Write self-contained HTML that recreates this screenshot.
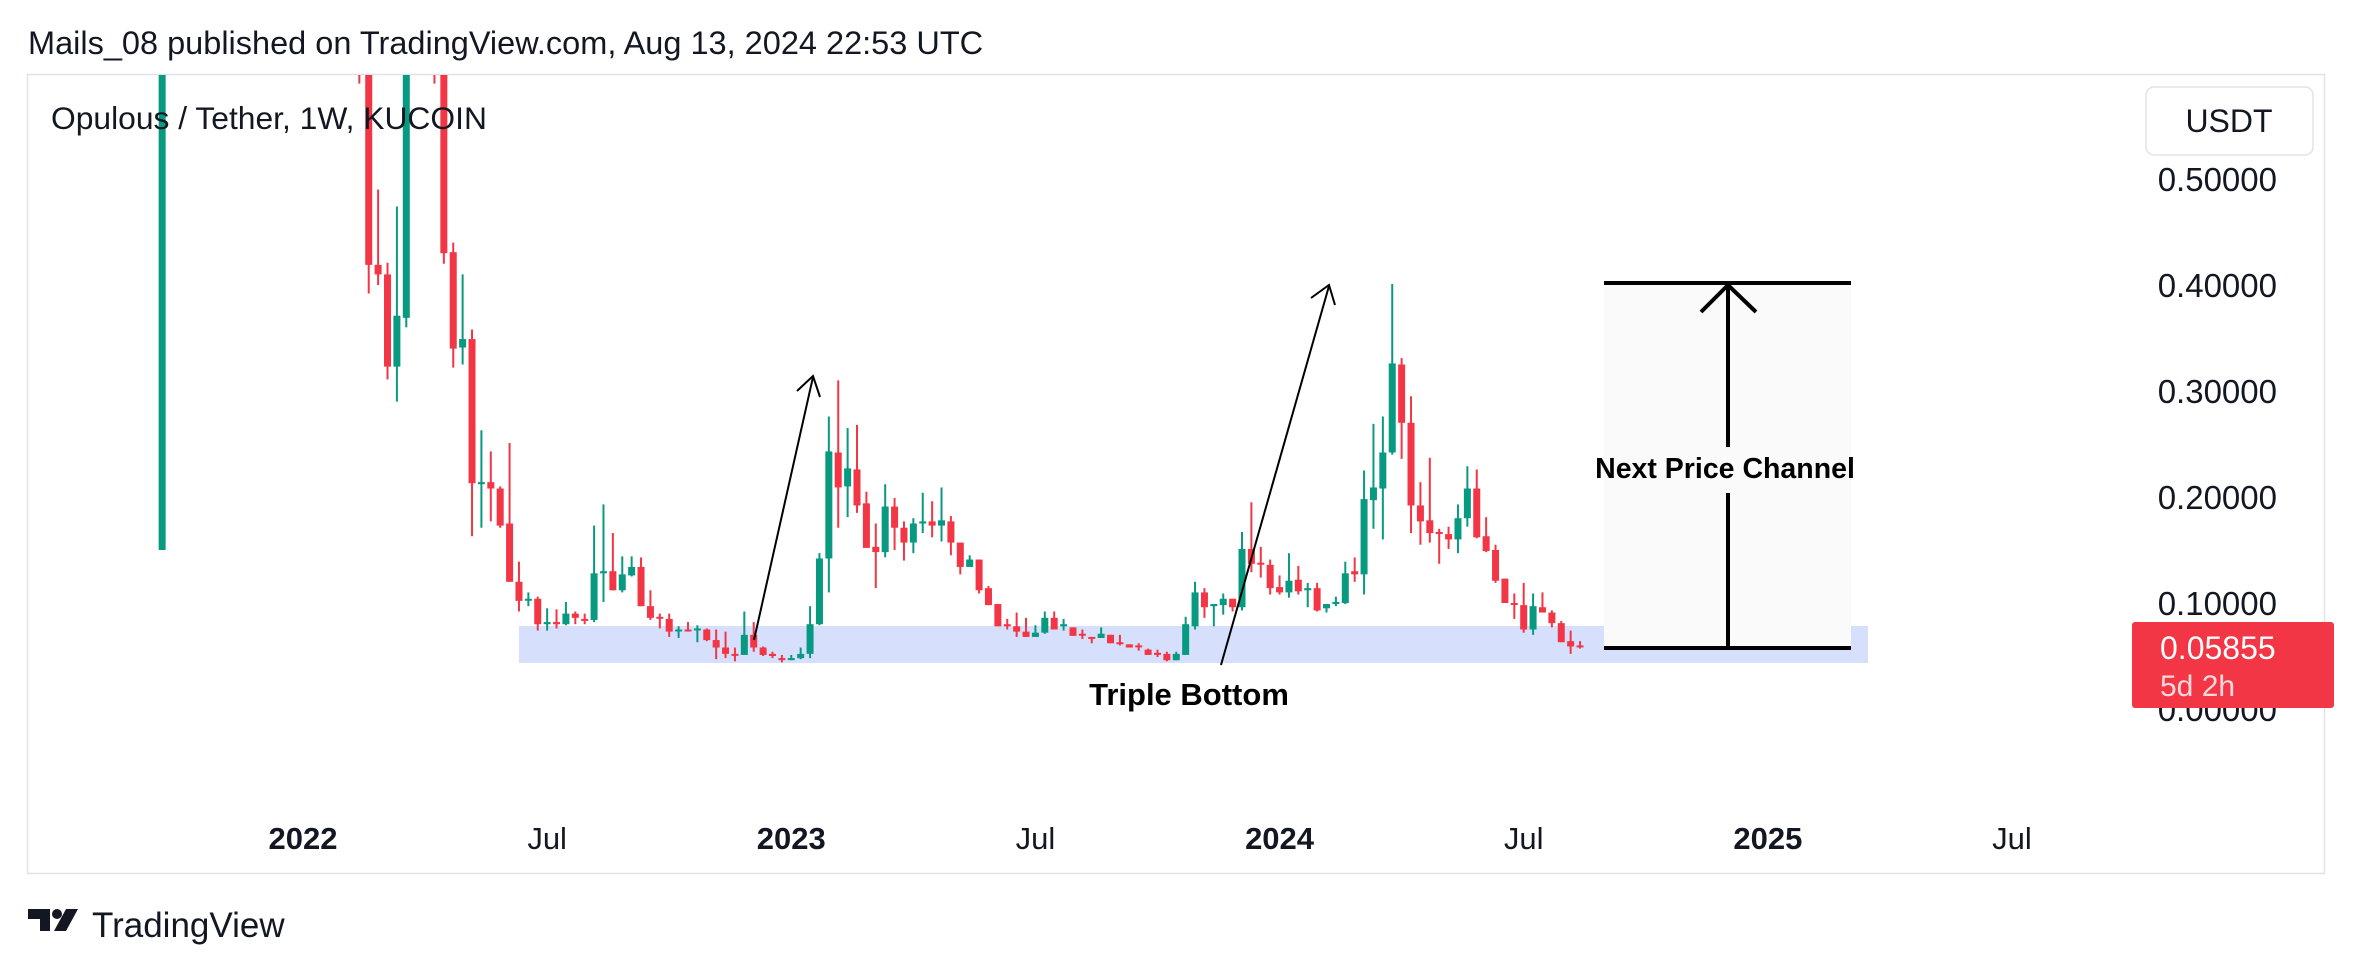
<!DOCTYPE html>
<html><head><meta charset="utf-8">
<style>
html,body{margin:0;padding:0;background:#fff;width:2355px;height:972px;overflow:hidden;font-family:"Liberation Sans",sans-serif;}
svg text{font-family:"Liberation Sans",sans-serif;}
</style></head>
<body>
<svg id="chart" width="2355" height="972" viewBox="0 0 2355 972" xmlns="http://www.w3.org/2000/svg">
  <text x="28" y="54" font-size="32.5" fill="#131722">Mails_08 published on TradingView.com, Aug 13, 2024 22:53 UTC</text>
  <rect x="27.5" y="74.5" width="2297" height="799" fill="#fff" stroke="#e0e3eb" stroke-width="1.5"/>
  <defs><clipPath id="pane"><rect x="28" y="75" width="2100" height="798"/></clipPath></defs>
  <rect x="519" y="626" width="1349" height="37" fill="#d6e0fc"/>
  <rect x="1604" y="283" width="247" height="365" fill="#fafafa"/>
  <g id="candles" clip-path="url(#pane)"></g>
  <g stroke="#000" stroke-width="4" fill="none">
    <line x1="1604" y1="283" x2="1851" y2="283"/>
    <line x1="1604" y1="648" x2="1851" y2="648"/>
    <line x1="1728" y1="648" x2="1728" y2="493"/>
    <line x1="1728" y1="447" x2="1728" y2="285"/>
    <polyline points="1701,312 1728,285 1756,312"/>
  </g>
  <text x="1725" y="478" font-size="28.5" font-weight="bold" text-anchor="middle" fill="#000">Next Price Channel</text>
  <g stroke="#000" stroke-width="2" fill="none">
    <line x1="754" y1="640" x2="813" y2="377"/>
    <polyline points="797,391 813,376 820,397"/>
  </g>
  <g stroke="#000" stroke-width="2" fill="none">
    <line x1="1221" y1="665" x2="1329" y2="286"/>
    <polyline points="1311,298 1329,285 1335,305"/>
  </g>
  <text x="1189" y="705" font-size="31" font-weight="bold" text-anchor="middle" fill="#000">Triple Bottom</text>
  <text x="51" y="129" font-size="31.8" fill="#131722">Opulous / Tether, 1W, KUCOIN</text>
  <g>
    <rect x="2146" y="87" width="167" height="68" rx="8" fill="#fff" stroke="#e0e3eb" stroke-width="1.5"/>
    <text x="2229" y="132" font-size="32" fill="#131722" text-anchor="middle">USDT</text>
  </g>
  <g id="yaxis"></g>
  <g id="xaxis"></g>
  <g>
    <rect x="2132" y="622" width="202" height="86" rx="3" fill="#f23645"/>
    <text x="2160" y="659" font-size="32" fill="#fff">0.05855</text>
    <text x="2160" y="696" font-size="30" fill="#ffd9dc">5d 2h</text>
  </g>
  <g>
    <path d="M28 909 h22 v22 h-10 v-12 h-12 z" fill="#131722"/>
    <circle cx="57" cy="914" r="5" fill="#131722"/>
    <path d="M66 909 h12 l-12 22 h-12 z" fill="#131722"/>
    <text x="92" y="937" font-size="35" fill="#131722">TradingView</text>
  </g>
</svg>
<script>
const weekStart = -15; // weeks relative to 2022-01-03
const opens  = [0.15,1.6,1.5,1.2,1.0,1.35,1.2,0.98,1.1,0.95,0.88,0.9,1.0,1.05,0.95,0.85,0.8,0.78,0.72,0.75,0.7,0.72,0.66,0.419,0.410,0.323,0.369,0.9,0.85,0.75,0.62,0.431,0.341,0.349,0.213,0.214,0.208,0.175,0.120,0.103,0.104,0.080,0.082,0.080,0.090,0.085,0.084,0.128,0.130,0.112,0.126,0.134,0.097,0.087,0.085,0.074,0.075,0.075,0.075,0.065,0.058,0.052,0.051,0.070,0.058,0.052,0.048,0.047,0.048,0.052,0.080,0.142,0.242,0.210,0.226,0.194,0.153,0.148,0.191,0.171,0.157,0.175,0.177,0.173,0.177,0.157,0.134,0.141,0.114,0.099,0.080,0.078,0.073,0.068,0.072,0.086,0.078,0.077,0.071,0.068,0.067,0.070,0.063,0.061,0.060,0.056,0.053,0.052,0.046,0.051,0.078,0.110,0.097,0.098,0.104,0.096,0.151,0.138,0.136,0.115,0.110,0.122,0.112,0.114,0.095,0.099,0.100,0.130,0.127,0.197,0.208,0.242,0.325,0.270,0.192,0.178,0.167,0.165,0.160,0.180,0.208,0.163,0.150,0.123,0.100,0.098,0.075,0.096,0.091,0.081,0.064,0.060];
const highs  = [2.0,2.2,1.7,1.4,1.5,1.6,1.3,1.2,1.25,1.05,1.0,1.1,1.2,1.15,1.0,0.95,0.9,0.85,0.8,0.82,0.78,0.78,0.7,0.490,0.421,0.474,0.95,1.1,0.95,0.8,0.66,0.440,0.410,0.358,0.263,0.243,0.210,0.251,0.139,0.110,0.106,0.095,0.094,0.101,0.092,0.090,0.173,0.193,0.166,0.144,0.144,0.143,0.112,0.090,0.090,0.078,0.082,0.079,0.076,0.075,0.073,0.058,0.092,0.082,0.059,0.054,0.051,0.051,0.058,0.097,0.147,0.276,0.310,0.265,0.268,0.205,0.175,0.212,0.199,0.177,0.180,0.204,0.196,0.209,0.182,0.157,0.145,0.141,0.116,0.099,0.085,0.091,0.086,0.079,0.092,0.092,0.085,0.077,0.075,0.068,0.077,0.070,0.070,0.061,0.062,0.057,0.056,0.054,0.054,0.087,0.120,0.114,0.099,0.109,0.104,0.167,0.195,0.153,0.141,0.126,0.147,0.135,0.119,0.119,0.099,0.106,0.139,0.143,0.225,0.269,0.276,0.401,0.331,0.295,0.214,0.237,0.170,0.172,0.193,0.229,0.226,0.181,0.155,0.123,0.109,0.119,0.109,0.110,0.093,0.083,0.074,0.064];
const lows   = [0.15,1.3,1.1,0.95,0.95,1.1,0.9,0.85,0.9,0.8,0.82,0.85,0.92,0.9,0.8,0.75,0.7,0.68,0.66,0.65,0.64,0.59,0.392,0.400,0.311,0.290,0.36,0.8,0.7,0.59,0.420,0.322,0.325,0.163,0.171,0.177,0.171,0.120,0.092,0.097,0.074,0.074,0.076,0.079,0.080,0.080,0.082,0.101,0.112,0.110,0.125,0.097,0.084,0.076,0.068,0.067,0.073,0.063,0.064,0.047,0.048,0.045,0.051,0.054,0.050,0.048,0.044,0.046,0.047,0.048,0.079,0.110,0.171,0.181,0.185,0.152,0.114,0.143,0.150,0.140,0.147,0.166,0.162,0.158,0.145,0.127,0.134,0.109,0.098,0.078,0.075,0.068,0.068,0.068,0.071,0.075,0.074,0.069,0.066,0.062,0.067,0.062,0.060,0.058,0.055,0.051,0.049,0.045,0.046,0.051,0.075,0.086,0.078,0.089,0.092,0.093,0.129,0.124,0.108,0.108,0.105,0.108,0.096,0.092,0.091,0.097,0.099,0.120,0.108,0.170,0.160,0.240,0.236,0.166,0.155,0.157,0.137,0.151,0.147,0.172,0.161,0.148,0.119,0.100,0.085,0.072,0.070,0.091,0.077,0.063,0.052,0.057];
const closes = [1.6,1.5,1.2,1.0,1.35,1.2,0.98,1.1,0.95,0.88,0.9,1.0,1.05,0.95,0.85,0.8,0.78,0.72,0.75,0.7,0.68,0.66,0.419,0.410,0.323,0.371,0.9,0.85,0.75,0.62,0.430,0.340,0.349,0.213,0.214,0.208,0.173,0.120,0.102,0.104,0.080,0.082,0.080,0.090,0.086,0.084,0.128,0.130,0.112,0.127,0.134,0.097,0.086,0.086,0.073,0.075,0.074,0.076,0.065,0.058,0.052,0.051,0.070,0.058,0.051,0.050,0.047,0.048,0.052,0.080,0.142,0.243,0.209,0.227,0.192,0.152,0.148,0.191,0.171,0.157,0.175,0.177,0.173,0.178,0.157,0.134,0.141,0.112,0.098,0.078,0.078,0.073,0.068,0.072,0.086,0.075,0.080,0.069,0.070,0.067,0.071,0.062,0.062,0.058,0.059,0.051,0.052,0.046,0.052,0.080,0.110,0.096,0.099,0.104,0.096,0.151,0.137,0.137,0.114,0.110,0.121,0.111,0.114,0.093,0.099,0.101,0.128,0.127,0.198,0.209,0.242,0.326,0.270,0.192,0.177,0.166,0.166,0.160,0.180,0.208,0.162,0.149,0.121,0.100,0.099,0.075,0.097,0.091,0.081,0.063,0.059,0.05855];
const yTicks = [0.5,0.4,0.3,0.2,0.1,0.0];
const yTickLabels = ["0.50000","0.40000","0.30000","0.20000","0.10000","0.00000"];
const xTickWeeks = [0,26,52,78,104,130,156,182];
const xTickLabels = ["2022","Jul","2023","Jul","2024","Jul","2025","Jul"];
const xTickBold = [true,false,true,false,true,false,true,false];

const NS = "http://www.w3.org/2000/svg";
function yScale(p){ return 709 - p*1060; }
function xScale(w){ return 303 + w*9.39; }

const cg = document.getElementById('candles');
for (let i = 0; i < opens.length; i++) {
  const x = xScale(weekStart + i);
  const o = opens[i], h = highs[i], l = lows[i], c = closes[i];
  const col = c >= o ? '#089981' : '#f23645';
  const g = document.createElementNS(NS, 'g');
  
  
  const wick = document.createElementNS(NS, 'line');
  wick.setAttribute('x1', x); wick.setAttribute('x2', x);
  wick.setAttribute('y1', yScale(h)); wick.setAttribute('y2', yScale(l));
  wick.setAttribute('stroke', col); wick.setAttribute('stroke-width', '2');
  g.appendChild(wick);
  const body = document.createElementNS(NS, 'rect');
  const top = yScale(Math.max(o, c)), bot = yScale(Math.min(o, c));
  body.setAttribute('x', x - 3.5); body.setAttribute('width', 7);
  body.setAttribute('y', top); body.setAttribute('height', Math.max(2, bot - top));
  body.setAttribute('fill', col);
  g.appendChild(body);
  cg.appendChild(g);
}

const yg = document.getElementById('yaxis');
for (let i = 0; i < yTicks.length; i++) {
  const t = document.createElementNS(NS, 'text');
  
  
  t.setAttribute('x', 2277); t.setAttribute('y', yScale(yTicks[i]) + 12);
  t.setAttribute('text-anchor', 'end'); t.setAttribute('font-size', '33'); t.setAttribute('fill', '#131722');
  t.textContent = yTickLabels[i];
  yg.appendChild(t);
}

const xg = document.getElementById('xaxis');
for (let i = 0; i < xTickWeeks.length; i++) {
  const t = document.createElementNS(NS, 'text');
  
  
  t.setAttribute('x', xScale(xTickWeeks[i])); t.setAttribute('y', 849);
  t.setAttribute('text-anchor', 'middle'); t.setAttribute('font-size', '31'); t.setAttribute('fill', '#131722');
  if (xTickBold[i]) t.setAttribute('font-weight', 'bold');
  t.textContent = xTickLabels[i];
  xg.appendChild(t);
}
</script>
</body></html>
